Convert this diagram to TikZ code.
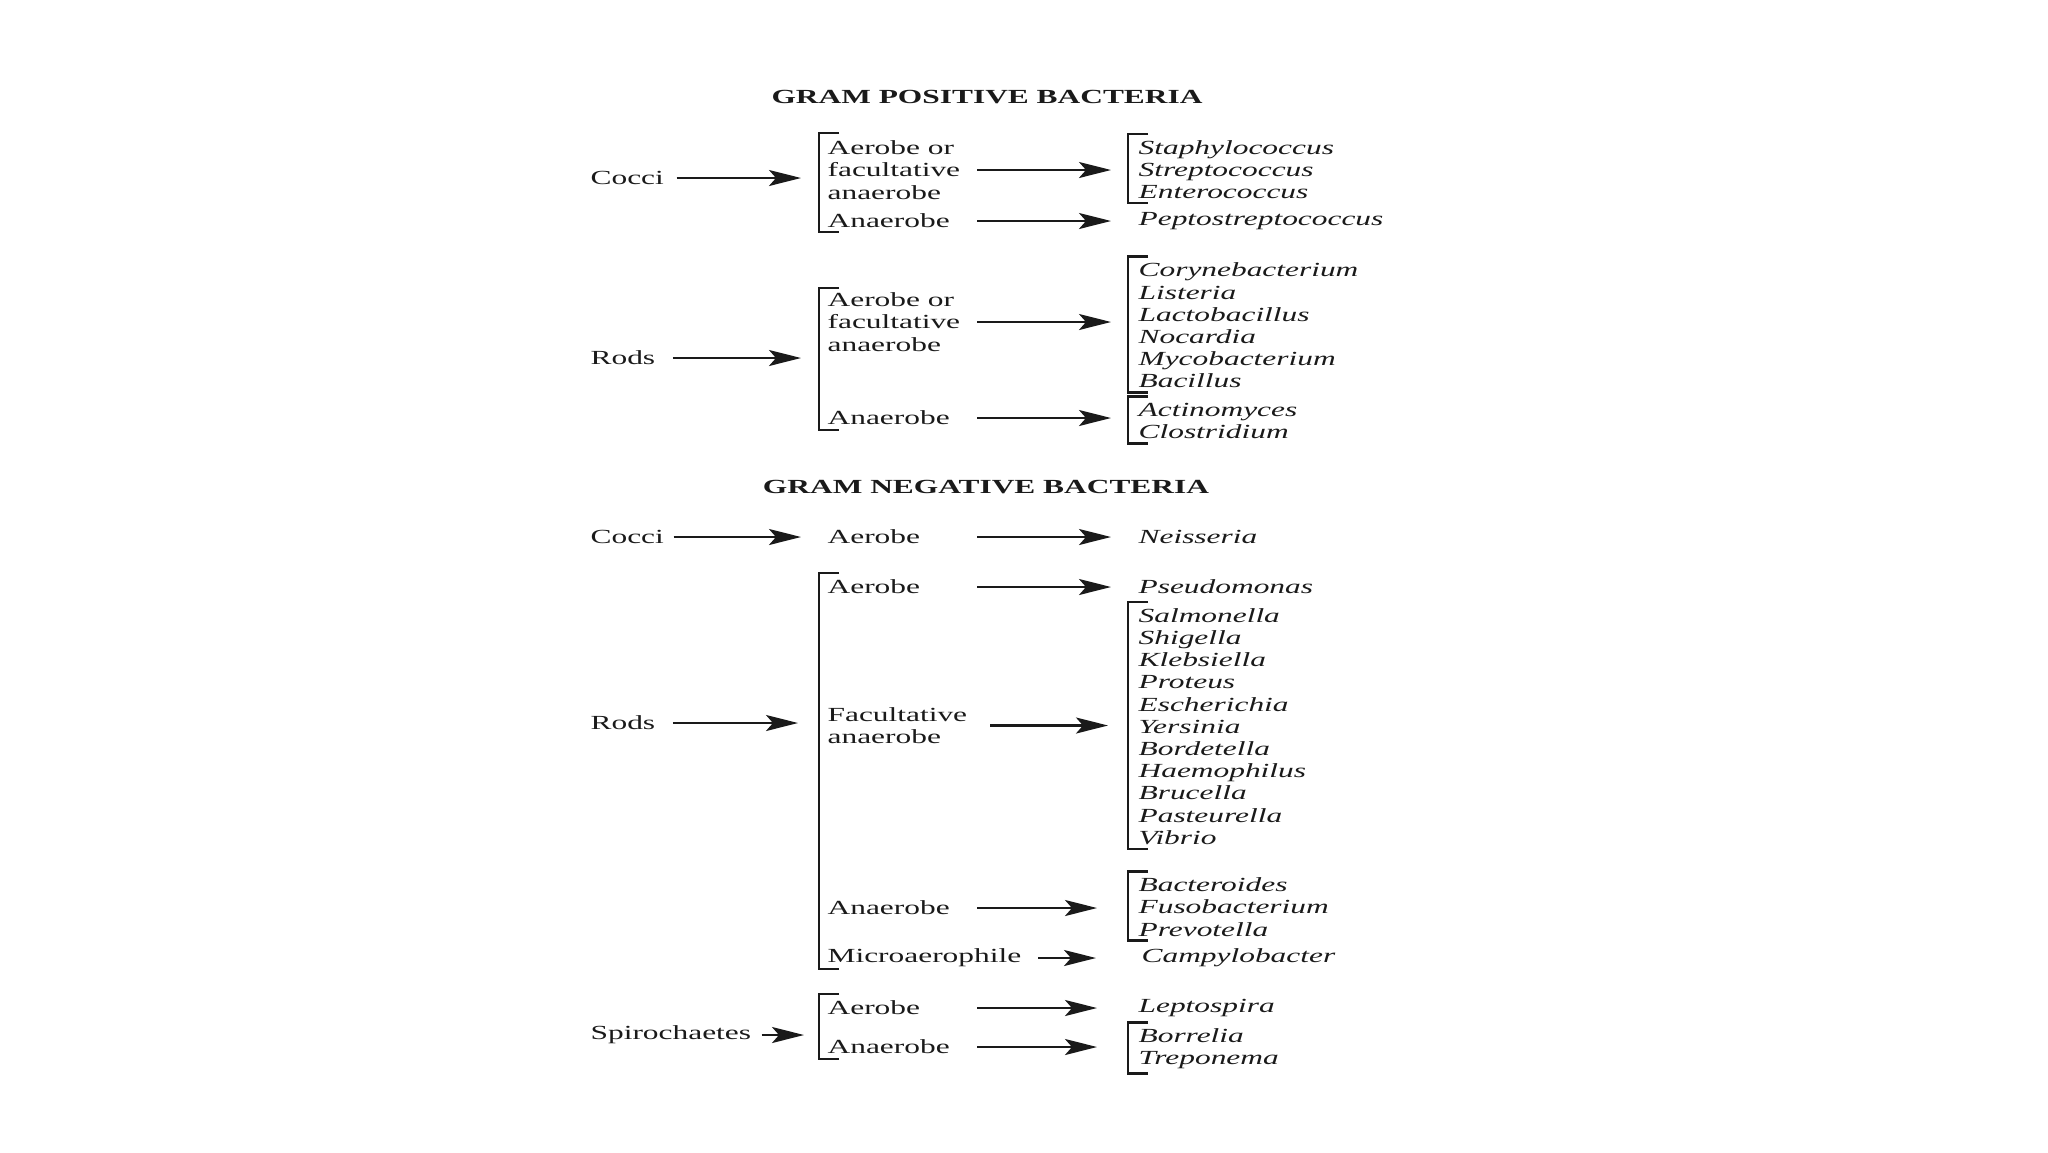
\documentclass[tikz,border=0pt]{standalone}
\usepackage{fontspec}
\setmainfont{Liberation Serif}
\usetikzlibrary{arrows.meta,calc}
\definecolor{ink}{HTML}{1A1A1A}
\newcommand\listbrk[1]{\draw[brk] ([shift={(10,6)}]#1.north west) -- ([shift={(-10,6)}]#1.north west) -- ([shift={(-10,-4)}]#1.south west) -- ([shift={(10,-4)}]#1.south west);}
\begin{document}
\begin{tikzpicture}[x=0.5pt,y=0.5pt,
 txt/.style={font=\fontsize{10}{11.1}\selectfont, inner sep=0pt, xscale=1.57, anchor=west, align=left, text=ink},
 sp/.style={txt, font=\fontsize{10}{11.1}\selectfont\itshape},
 ttl/.style={txt, anchor=center, font=\fontsize{10}{12}\selectfont\bfseries},
 arr/.style={draw=ink, line width=1.2pt, -{Stealth[length=16pt,width=8pt,inset=3.5pt]}},
 brk/.style={draw=ink, line width=1.3pt}]
\path[fill=white] (0,0) rectangle (2048,-1152);
\useasboundingbox (0,0) rectangle (2048,-1152);

% ---------- Gram positive ----------
\node[ttl] (tp) at (987,-97) {GRAM POSITIVE BACTERIA};
\node[txt] (pc) at (590,-178) {Cocci};
\node[txt] (m1) at (827,-170) {Aerobe or\\facultative\\anaerobe};
\node[txt] (m2) at (827,-221) {Anaerobe};
\node[sp] (l1) at (1138,-169.5) {Staphylococcus\\Streptococcus\\Enterococcus};
\node[sp] (l2) at (1138,-221) {Peptostreptococcus};
\node[txt] (pr) at (590,-358) {Rods};
\node[txt] (m3) at (827,-322) {Aerobe or\\facultative\\anaerobe};
\node[txt] (m4) at (827,-418) {Anaerobe};
\node[sp] (l3) at (1138,-325.5) {Corynebacterium\\Listeria\\Lactobacillus\\Nocardia\\Mycobacterium\\Bacillus};
\node[sp] (l4) at (1138,-421) {Actinomyces\\Clostridium};

% ---------- Gram negative ----------
\node[ttl] (tn) at (986,-487) {GRAM NEGATIVE BACTERIA};
\node[txt] (nc) at (590,-537) {Cocci};
\node[txt] (m5) at (827,-537) {Aerobe};
\node[sp] (l5) at (1138,-537) {Neisseria};
\node[txt] (nr) at (590,-723) {Rods};
\node[txt] (m6) at (827,-587) {Aerobe};
\node[sp] (l6) at (1138,-587) {Pseudomonas};
\node[txt] (m7) at (827,-725.5) {Facultative\\anaerobe};
\node[sp] (l7) at (1138,-726.5) {Salmonella\\Shigella\\Klebsiella\\Proteus\\Escherichia\\Yersinia\\Bordetella\\Haemophilus\\Brucella\\Pasteurella\\Vibrio};
\node[txt] (m8) at (827,-908) {Anaerobe};
\node[sp] (l8) at (1138,-907) {Bacteroides\\Fusobacterium\\Prevotella};
\node[txt] (m9) at (827,-958) {Microaerophile};
\node[sp] (l9) at (1141,-958) {Campylobacter};
\node[txt] (ns) at (590,-1035) {Spirochaetes};
\node[txt] (m10) at (827,-1008) {Aerobe};
\node[sp] (l10) at (1138,-1008) {Leptospira};
\node[txt] (m11) at (827,-1047) {Anaerobe};
\node[sp] (l11) at (1138,-1049) {Borrelia\\Treponema};

% ---------- middle brackets ----------
\coordinate (b1t) at (819,-133); \coordinate (b1b) at (819,-232);
\coordinate (b2t) at (819,-288); \coordinate (b2b) at (819,-430);
\coordinate (b3t) at (819,-573); \coordinate (b3b) at (819,-969);
\coordinate (b4t) at (819,-994); \coordinate (b4b) at (819,-1059);
\draw[brk] ($(b1t)+(20,0)$) -- (b1t) -- (b1b) -- ++(20,0);
\draw[brk] ($(b2t)+(20,0)$) -- (b2t) -- (b2b) -- ++(20,0);
\draw[brk] ($(b3t)+(20,0)$) -- (b3t) -- (b3b) -- ++(20,0);
\draw[brk] ($(b4t)+(20,0)$) -- (b4t) -- (b4b) -- ++(20,0);

% ---------- list brackets ----------
\listbrk{l1}
\listbrk{l3}
\listbrk{l4}
\listbrk{l7}
\listbrk{l8}
\listbrk{l11}

% ---------- left arrows ----------
\draw[arr, shorten <=6pt, shorten >=9pt] (pc.east) -- (pc.east -| b1t);
\draw[arr, shorten <=8.5pt, shorten >=9pt] (pr.east) -- (pr.east -| b2t);
\draw[arr, shorten <=4.5pt, shorten >=13pt] (nc.east) -- (nc.east -| m5.west);
\draw[arr, shorten <=8.5pt, shorten >=10.5pt] (nr.east) -- (nr.east -| b3t);
\draw[arr, shorten <=5pt, shorten >=7.5pt] (ns.east) -- (ns.east -| b4t);

% ---------- right arrows ----------
\draw[arr, shorten >=13.5pt] ($(m1.west)+(150,0)$) -- (m1.west -| l1.west);
\draw[arr, shorten >=13.5pt] ($(m2.west)+(150,0)$) -- (m2.west -| l2.west);
\draw[arr, shorten >=13.5pt] ($(m3.west)+(150,0)$) -- (m3.west -| l3.west);
\draw[arr, shorten >=13.5pt] ($(m4.west)+(150,0)$) -- (m4.west -| l4.west);
\draw[arr, shorten >=13.5pt] ($(m5.west)+(150,0)$) -- (m5.west -| l5.west);
\draw[arr, shorten >=13.5pt] ($(m6.west)+(150,0)$) -- (m6.west -| l6.west);
\draw[arr, shorten >=15pt] ($(m7.west)+(163,0)$) -- (m7.west -| l7.west);
\draw[arr, shorten >=20.5pt] ($(m8.west)+(150,0)$) -- (m8.west -| l8.west);
\draw[arr, shorten >=22.5pt] ($(m9.west)+(211,0)$) -- (m9.west -| l9.west);
\draw[arr, shorten >=20.5pt] ($(m10.west)+(150,0)$) -- (m10.west -| l10.west);
\draw[arr, shorten >=20.5pt] ($(m11.west)+(150,0)$) -- (m11.west -| l11.west);
\end{tikzpicture}
\end{document}
